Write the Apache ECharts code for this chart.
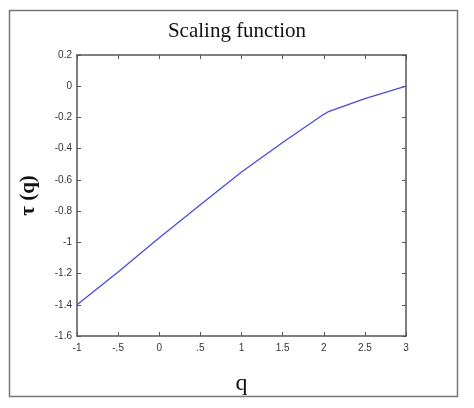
<!DOCTYPE html>
<html><head><meta charset="utf-8">
<script src="https://cdn.jsdelivr.net/npm/echarts@6/dist/echarts.min.js"></script>
<style>html,body{margin:0;padding:0;background:#fff}#c{width:474px;height:408px}</style>
</head><body><div id="c"></div>
<script>
var qValues = [-1, -0.5, 0, 0.5, 1, 1.5, 2, 2.05, 2.5, 3];
var tauValues = [-1.40, -1.19, -0.97, -0.76, -0.55, -0.36, -0.18, -0.165, -0.08, 0.0];
var titleText = 'Scaling function';
var xName = 'q';
var yName = 'τ (q)';

var data = qValues.map(function(q, i){ return [q, tauValues[i]]; });
function fmtX(v){
  var s = String(Math.round(v*100)/100);
  return s.replace(/^(-?)0\./, '$1.');
}
var frame = '#555';
var chart = echarts.init(document.getElementById('c'));
chart.setOption({
  animation: false,
  title: { text: titleText, left: 'center', top: 16,
    textStyle: { fontFamily: 'Liberation Serif', fontSize: 21, fontWeight: 'normal', color: '#111' } },
  graphic: [{ type: 'rect', shape: { x: 9.5, y: 10.5, width: 448, height: 386 },
    style: { fill: 'none', stroke: '#777', lineWidth: 1.5 } }],
  grid: { left: 77, right: 68, top: 55, bottom: 72 },
  xAxis: [{
    type: 'value', min: -1, max: 3, interval: 0.5,
    name: xName, nameLocation: 'middle', nameGap: 36,
    nameTextStyle: { fontFamily: 'Liberation Serif', fontSize: 24, color: '#111' },
    axisLine: { show: true, onZero: false, lineStyle: { color: frame, width: 1.5 } },
    axisTick: { inside: true, length: 4, lineStyle: { color: frame } },
    axisLabel: { formatter: fmtX, fontFamily: 'Liberation Sans', fontSize: 10, color: '#333', margin: 7 },
    splitLine: { show: false }
  }, {
    type: 'value', position: 'top', min: -1, max: 3, interval: 0.5,
    axisLine: { show: true, onZero: false, lineStyle: { color: frame, width: 1.5 } },
    axisTick: { inside: true, length: 4, lineStyle: { color: frame } },
    axisLabel: { show: false }, splitLine: { show: false }
  }],
  yAxis: [{
    type: 'value', min: -1.6, max: 0.2, interval: 0.2,
    name: yName, nameLocation: 'middle', nameGap: 38, nameRotate: 90,
    nameTextStyle: { fontFamily: 'Liberation Serif', fontSize: 21, fontWeight: 'bold', color: '#111' },
    axisLine: { show: true, onZero: false, lineStyle: { color: frame, width: 1.5 } },
    axisTick: { inside: true, length: 4, lineStyle: { color: frame } },
    axisLabel: { formatter: function(v){ return String(Math.round(v*10)/10); },
      fontFamily: 'Liberation Sans', fontSize: 10, color: '#333', margin: 5 },
    splitLine: { show: false }
  }, {
    type: 'value', position: 'right', min: -1.6, max: 0.2, interval: 0.2,
    axisLine: { show: true, onZero: false, lineStyle: { color: frame, width: 1.5 } },
    axisTick: { inside: true, length: 4, lineStyle: { color: frame } },
    axisLabel: { show: false }, splitLine: { show: false }
  }],
  series: [{
    type: 'line', data: data, xAxisIndex: 0, yAxisIndex: 0,
    showSymbol: false, symbol: 'none',
    lineStyle: { color: '#4a4ae0', width: 1.3 }
  }]
});
</script></body></html>
